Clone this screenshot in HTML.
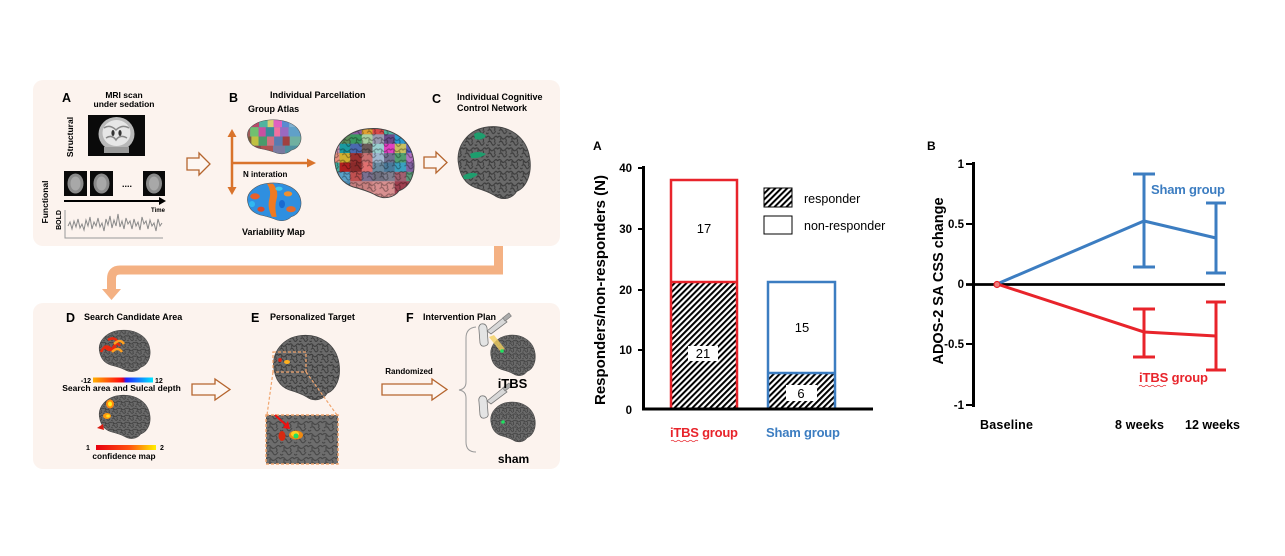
<!DOCTYPE html>
<html><head><meta charset="utf-8"><style>
html,body{margin:0;padding:0;background:#fff;}
svg{display:block;}
text{font-family:"Liberation Sans",Arial,sans-serif;}
</style></head><body>
<svg width="1285" height="556" viewBox="0 0 1285 556" xmlns="http://www.w3.org/2000/svg">
<defs>
<pattern id="gy" width="14" height="12" patternUnits="userSpaceOnUse">
<rect width="14" height="12" fill="#6a6a6a"/>
<path d="M0,3 Q3,0 5,3 T10,3 T14,3 M2,8 Q5,5 7,9 T12,8 M4,3 L4,6 M10,4 Q12,6 10,8 M0,10 Q2,12 3,10" fill="none" stroke="#3a3a3a" stroke-width="1.2"/>
</pattern>
<pattern id="gy2" width="14" height="12" patternUnits="userSpaceOnUse">
<path d="M0,3 Q3,0 5,3 T10,3 T14,3 M2,8 Q5,5 7,9 T12,8 M4,3 L4,6 M10,4 Q12,6 10,8" fill="none" stroke="#000" stroke-opacity="0.35" stroke-width="1.2"/>
</pattern>
<pattern id="hatch" width="4.2" height="4.2" patternUnits="userSpaceOnUse" patternTransform="rotate(45)">
<rect width="4.2" height="4.2" fill="#fff"/>
<line x1="1" y1="0" x2="1" y2="4.2" stroke="#000" stroke-width="2"/>
</pattern>
<clipPath id="bc"><path d="M8,42 C4,24 20,6 45,4 C70,2 92,14 96,36 C99,52 92,66 80,70 C74,78 62,80 52,74 C44,70 36,68 28,66 C16,62 10,54 8,42 Z"/></clipPath>
<linearGradient id="cb1" x1="0" x2="1" y1="0" y2="0">
<stop offset="0" stop-color="#ffb000"/><stop offset="0.45" stop-color="#ff1010"/><stop offset="0.5" stop-color="#e00020"/><stop offset="0.55" stop-color="#2020ff"/><stop offset="1" stop-color="#00e8ff"/>
</linearGradient>
<linearGradient id="cb2" x1="0" x2="1" y1="0" y2="0">
<stop offset="0" stop-color="#e80010"/><stop offset="0.55" stop-color="#ff5010"/><stop offset="1" stop-color="#fff000"/>
</linearGradient>
</defs>

<rect width="1285" height="556" fill="#fff"/>

<!-- Boxes -->
<rect x="33" y="80" width="527" height="166" rx="10" fill="#fcf3ee"/>
<rect x="33" y="303" width="527" height="166" rx="10" fill="#fcf3ee"/>

<!-- Orange connector -->
<path d="M498.5,246 V270 H120 Q111.5,270 111.5,279 V290" fill="none" stroke="#f4b183" stroke-width="9"/>
<polygon points="102,289 121,289 111.5,300" fill="#f4b183"/>

<!-- Panel A -->
<text x="62" y="102" font-size="12.5" font-weight="bold">A</text>
<text x="124" y="98" font-size="8.5" font-weight="bold" text-anchor="middle">MRI scan</text>
<text x="124" y="107" font-size="8.5" font-weight="bold" text-anchor="middle">under sedation</text>
<text transform="translate(73,137) rotate(-90)" font-size="8.5" font-weight="bold" text-anchor="middle">Structural</text>
<rect x="88" y="115" width="57" height="41" fill="#0a0a0a"/>
<ellipse cx="116.5" cy="134" rx="18" ry="17" fill="#b8b8b8"/>
<ellipse cx="116.5" cy="133" rx="14" ry="13" fill="#e6e6e6"/>
<path d="M104,128 Q110,124 116,130 Q122,124 129,128 M106,138 Q112,134 116,140 Q120,134 127,138" stroke="#888" stroke-width="1.5" fill="none"/>
<ellipse cx="113" cy="133" rx="1.6" ry="3" fill="#333"/><ellipse cx="120" cy="133" rx="1.6" ry="3" fill="#333"/>
<rect x="104" y="147" width="25" height="6" fill="#999"/>

<text transform="translate(48,202) rotate(-90)" font-size="8.5" font-weight="bold" text-anchor="middle">Functional</text>
<rect x="64" y="171" width="23" height="25" fill="#0a0a0a"/>
<rect x="90" y="171" width="23" height="25" fill="#0a0a0a"/>
<rect x="143" y="171" width="22" height="25" fill="#0a0a0a"/>
<ellipse cx="75.5" cy="183.5" rx="8" ry="10" fill="#8a8a8a"/><ellipse cx="75.5" cy="183.5" rx="5" ry="7" fill="#a8a8a8"/>
<ellipse cx="101.5" cy="183.5" rx="8" ry="10" fill="#8a8a8a"/><ellipse cx="101.5" cy="183.5" rx="5" ry="7" fill="#a8a8a8"/>
<ellipse cx="154" cy="183.5" rx="8" ry="10" fill="#8a8a8a"/><ellipse cx="154" cy="183.5" rx="5" ry="7" fill="#a8a8a8"/>
<text x="127" y="187" font-size="9" font-weight="bold" text-anchor="middle">....</text>
<line x1="64" y1="201" x2="161" y2="201" stroke="#000" stroke-width="2"/>
<polygon points="159,197 166,201 159,205" fill="#000"/>
<text x="158" y="212" font-size="6" font-weight="bold" text-anchor="middle">Time</text>
<text transform="translate(61,220) rotate(-90)" font-size="7" font-weight="bold" text-anchor="middle">BOLD</text>
<path d="M65,210 V238 H163" fill="none" stroke="#999" stroke-width="1"/>
<polyline points="68,226 70,222 72,229 74,221 76,227 78,219 80,228 82,224 84,230 86,220 88,226 90,217 92,229 94,222 96,226 98,218 100,227 102,223 104,231 106,219 108,225 110,216 112,228 114,220 116,226 118,214 120,227 122,221 124,229 126,218 128,224 130,221 132,229 134,219 136,226 138,222 140,230 142,217 144,224 146,221 148,229 150,220 152,226 154,223 156,231 158,219 160,226 162,223" fill="none" stroke="#8a8a8a" stroke-width="1"/>

<!-- Hollow arrow 1 -->
<polygon points="187,158 199,158 199,153 210,164 199,175 199,170 187,170" fill="#fdf6f2" stroke="#b5652e" stroke-width="1.3"/>

<!-- Panel B -->
<text x="229" y="102" font-size="12.5" font-weight="bold">B</text>
<text x="270" y="98" font-size="9" font-weight="bold">Individual Parcellation</text>
<text x="248" y="112" font-size="9" font-weight="bold">Group Atlas</text>
<!-- orange cross arrows -->
<line x1="232" y1="135" x2="232" y2="189" stroke="#d9732b" stroke-width="2.5"/>
<polygon points="227.5,137 232,129 236.5,137" fill="#d9732b"/>
<polygon points="227.5,187 232,195 236.5,187" fill="#d9732b"/>
<line x1="232" y1="163" x2="309" y2="163" stroke="#d9732b" stroke-width="2.5"/>
<polygon points="307,158.5 316,163 307,167.5" fill="#d9732b"/>
<text x="243" y="177" font-size="8" font-weight="bold">N interation</text>
<text x="242" y="235" font-size="9" font-weight="bold">Variability Map</text>

<!-- Group atlas brain -->
<g transform="translate(243,118) scale(0.6,0.4625)">
<g clip-path="url(#bc)">
<rect width="100" height="80" fill="#4aa0b8"/>
<rect x="0" y="0" width="15" height="20" fill="#6a5a9a"/><rect x="15" y="0" width="12" height="20" fill="#b84a6a"/><rect x="27" y="0" width="14" height="20" fill="#50b4a0"/><rect x="41" y="0" width="10" height="20" fill="#d8d070"/><rect x="51" y="0" width="14" height="20" fill="#e060c0"/><rect x="65" y="0" width="12" height="20" fill="#5a8ad0"/><rect x="77" y="0" width="23" height="20" fill="#80b0d0"/>
<rect x="0" y="20" width="12" height="20" fill="#a05a5a"/><rect x="12" y="20" width="14" height="20" fill="#70c070"/><rect x="26" y="20" width="12" height="20" fill="#c850a0"/><rect x="38" y="20" width="14" height="20" fill="#3a8a9a"/><rect x="52" y="20" width="10" height="20" fill="#f070a0"/><rect x="62" y="20" width="14" height="20" fill="#9a6ac0"/><rect x="76" y="20" width="24" height="20" fill="#60a0c8"/>
<rect x="0" y="40" width="14" height="20" fill="#7a5a3a"/><rect x="14" y="40" width="12" height="20" fill="#c0c040"/><rect x="26" y="40" width="14" height="20" fill="#4a9a6a"/><rect x="40" y="40" width="12" height="20" fill="#d07080"/><rect x="52" y="40" width="14" height="20" fill="#5a7ab0"/><rect x="66" y="40" width="12" height="20" fill="#a04040"/><rect x="78" y="40" width="22" height="20" fill="#70b0a0"/>
<rect x="0" y="60" width="30" height="20" fill="#8a4a4a"/><rect x="30" y="60" width="20" height="20" fill="#b05050"/><rect x="50" y="60" width="20" height="20" fill="#7a7aa0"/><rect x="70" y="60" width="30" height="20" fill="#5090a0"/>
</g>
<path d="M8,42 C4,24 20,6 45,4 C70,2 92,14 96,36 C99,52 92,66 80,70 C74,78 62,80 52,74 C44,70 36,68 28,66 C16,62 10,54 8,42 Z" fill="none" stroke="#555" stroke-width="1"/>
</g>

<!-- Variability brain -->
<g transform="translate(243,181) scale(0.6,0.5125)">
<g clip-path="url(#bc)">
<rect width="100" height="80" fill="#2f8fe0"/>
<path d="M40,5 Q48,20 44,35 Q40,50 48,70 L56,70 Q52,50 56,35 Q60,20 50,5 Z" fill="#f07a20"/>
<ellipse cx="20" cy="30" rx="8" ry="6" fill="#e8602a"/><ellipse cx="75" cy="25" rx="7" ry="5" fill="#f09030"/>
<ellipse cx="30" cy="55" rx="6" ry="5" fill="#d84a2a"/><ellipse cx="80" cy="55" rx="8" ry="6" fill="#e06a30"/>
<ellipse cx="60" cy="15" rx="6" ry="4" fill="#40c8e8"/><ellipse cx="15" cy="45" rx="5" ry="6" fill="#30b8f0"/>
<ellipse cx="65" cy="45" rx="5" ry="8" fill="#1a6ad0"/>
</g>
<path d="M8,42 C4,24 20,6 45,4 C70,2 92,14 96,36 C99,52 92,66 80,70 C74,78 62,80 52,74 C44,70 36,68 28,66 C16,62 10,54 8,42 Z" fill="none" stroke="#555" stroke-width="1"/>
</g>

<!-- Parcellation brain -->
<g transform="translate(328,125) scale(0.89,0.9375)">
<g clip-path="url(#bc)">
<rect width="100" height="80" fill="#7a7a9a"/>
<rect x="0" y="0" width="13" height="10" fill="#c8373c"/><rect x="13" y="0" width="12" height="10" fill="#3fa0c8"/><rect x="25" y="0" width="13" height="10" fill="#8c5aa0"/><rect x="38" y="0" width="12" height="10" fill="#e0a030"/><rect x="50" y="0" width="13" height="10" fill="#d84a4a"/><rect x="63" y="0" width="12" height="10" fill="#50b4a0"/><rect x="75" y="0" width="13" height="10" fill="#9ac0d8"/><rect x="88" y="0" width="12" height="10" fill="#2a7ab0"/>
<rect x="0" y="10" width="13" height="10" fill="#d878a8"/><rect x="13" y="10" width="12" height="10" fill="#5a8c5a"/><rect x="25" y="10" width="13" height="10" fill="#3a9a60"/><rect x="38" y="10" width="12" height="10" fill="#a8d0a0"/><rect x="50" y="10" width="13" height="10" fill="#9a9ab0"/><rect x="63" y="10" width="12" height="10" fill="#6a4a8a"/><rect x="75" y="10" width="13" height="10" fill="#2a9ad0"/><rect x="88" y="10" width="12" height="10" fill="#e05c8c"/>
<rect x="0" y="20" width="13" height="10" fill="#c890b0"/><rect x="13" y="20" width="12" height="10" fill="#1a9aa0"/><rect x="25" y="20" width="13" height="10" fill="#4a6ab0"/><rect x="38" y="20" width="12" height="10" fill="#6a5a5a"/><rect x="50" y="20" width="13" height="10" fill="#9ad0d0"/><rect x="63" y="20" width="12" height="10" fill="#e040c0"/><rect x="75" y="20" width="13" height="10" fill="#c8c060"/><rect x="88" y="20" width="12" height="10" fill="#5a60c0"/>
<rect x="0" y="30" width="13" height="10" fill="#e89080"/><rect x="13" y="30" width="12" height="10" fill="#d0b030"/><rect x="25" y="30" width="13" height="10" fill="#9a3030"/><rect x="38" y="30" width="12" height="10" fill="#c87070"/><rect x="50" y="30" width="13" height="10" fill="#a0b8d0"/><rect x="63" y="30" width="12" height="10" fill="#707090"/><rect x="75" y="30" width="13" height="10" fill="#50a070"/><rect x="88" y="30" width="12" height="10" fill="#b070c0"/>
<rect x="0" y="40" width="13" height="10" fill="#40b0a0"/><rect x="13" y="40" width="12" height="10" fill="#b02020"/><rect x="25" y="40" width="13" height="10" fill="#8a2a2a"/><rect x="38" y="40" width="12" height="10" fill="#e07070"/><rect x="50" y="40" width="13" height="10" fill="#6a8aa0"/><rect x="63" y="40" width="12" height="10" fill="#4a7a9a"/><rect x="75" y="40" width="13" height="10" fill="#3aa0c0"/><rect x="88" y="40" width="12" height="10" fill="#8060a0"/>
<rect x="0" y="50" width="13" height="10" fill="#5a8ab0"/><rect x="13" y="50" width="12" height="10" fill="#5aa0c8"/><rect x="25" y="50" width="13" height="10" fill="#c05050"/><rect x="38" y="50" width="12" height="10" fill="#7a7090"/><rect x="50" y="50" width="13" height="10" fill="#707080"/><rect x="63" y="50" width="12" height="10" fill="#808090"/><rect x="75" y="50" width="13" height="10" fill="#a06070"/><rect x="88" y="50" width="12" height="10" fill="#5a9a7a"/>
<rect x="0" y="60" width="25" height="20" fill="#4a8ab0"/><rect x="25" y="60" width="25" height="20" fill="#c88080"/><rect x="50" y="60" width="25" height="20" fill="#d89090"/><rect x="75" y="60" width="25" height="20" fill="#a04050"/>
<rect width="100" height="80" fill="url(#gy2)"/>
</g>
<path d="M8,42 C4,24 20,6 45,4 C70,2 92,14 96,36 C99,52 92,66 80,70 C74,78 62,80 52,74 C44,70 36,68 28,66 C16,62 10,54 8,42 Z" fill="none" stroke="#444" stroke-width="1"/>
</g>

<!-- Hollow arrow 2 -->
<polygon points="424,157 436,157 436,152 447,162.5 436,173 436,168 424,168" fill="#fdf6f2" stroke="#b5652e" stroke-width="1.3"/>

<!-- Panel C -->
<text x="432" y="103" font-size="12.5" font-weight="bold">C</text>
<text x="457" y="100" font-size="9" font-weight="bold">Individual Cognitive</text>
<text x="457" y="111" font-size="9" font-weight="bold">Control Network</text>
<g transform="translate(452,123) scale(0.81,0.975)">
<path d="M8,42 C4,24 20,6 45,4 C70,2 92,14 96,36 C99,52 92,66 80,70 C74,78 62,80 52,74 C44,70 36,68 28,66 C16,62 10,54 8,42 Z" fill="url(#gy)" stroke="#444" stroke-width="1"/>
</g>
<path d="M474,134 Q480,130 486,136 Q482,141 475,139 Z" fill="#1e9e6e"/>
<path d="M470,154 Q478,150 486,154 Q480,159 471,158 Z" fill="#1e9e6e"/>
<path d="M463,176 Q470,171 478,174 Q472,180 464,179 Z" fill="#1e9e6e"/>

<!-- Panel D -->
<text x="66" y="322" font-size="12.5" font-weight="bold">D</text>
<text x="84" y="320" font-size="9" font-weight="bold">Search Candidate Area</text>
<g transform="translate(95,328) scale(0.57,0.5625)">
<path d="M8,42 C4,24 20,6 45,4 C70,2 92,14 96,36 C99,52 92,66 80,70 C74,78 62,80 52,74 C44,70 36,68 28,66 C16,62 10,54 8,42 Z" fill="url(#gy)" stroke="#444" stroke-width="1"/>
</g>
<path d="M101,352 Q106,342 112,350 Q116,340 120,346 M104,346 Q110,354 116,346 M108,340 Q114,336 118,342" fill="none" stroke="#e82a10" stroke-width="2.5"/>
<path d="M112,352 Q118,346 122,352 M114,344 Q120,338 124,344" fill="none" stroke="#ffa020" stroke-width="2.5"/>
<text x="91" y="383" font-size="7" font-weight="bold" text-anchor="end">-12</text>
<rect x="93" y="377.5" width="60" height="5" fill="url(#cb1)"/>
<text x="155" y="383" font-size="7" font-weight="bold">12</text>
<text x="121.5" y="391" font-size="8.5" font-weight="bold" text-anchor="middle">Search area and Sulcal depth</text>
<g transform="translate(95,393) scale(0.57,0.5875)">
<path d="M8,42 C4,24 20,6 45,4 C70,2 92,14 96,36 C99,52 92,66 80,70 C74,78 62,80 52,74 C44,70 36,68 28,66 C16,62 10,54 8,42 Z" fill="url(#gy)" stroke="#444" stroke-width="1"/>
</g>
<ellipse cx="110" cy="404" rx="4" ry="4.5" fill="#ff8a10"/><ellipse cx="110" cy="404" rx="2" ry="2.5" fill="#fff020"/>
<ellipse cx="107" cy="416" rx="4" ry="3" fill="#ff9a10"/><ellipse cx="108" cy="416" rx="1.8" ry="1.5" fill="#ffe020"/>
<path d="M97,428 L103,424 L104,430 Z" fill="#d81a10"/>
<text x="88" y="450" font-size="7" font-weight="bold" text-anchor="middle">1</text>
<rect x="96" y="445" width="60" height="5" fill="url(#cb2)"/>
<text x="162" y="450" font-size="7" font-weight="bold" text-anchor="middle">2</text>
<text x="124" y="459" font-size="8.3" font-weight="bold" text-anchor="middle">confidence map</text>

<!-- Hollow arrow 3 -->
<polygon points="192,384 215,384 215,379 230,389.5 215,400 215,395 192,395" fill="#fdf6f2" stroke="#b5652e" stroke-width="1.3"/>

<!-- Panel E -->
<text x="251" y="322" font-size="12.5" font-weight="bold">E</text>
<text x="270" y="320" font-size="9" font-weight="bold">Personalized Target</text>
<g transform="translate(268,332) scale(0.74,0.875)">
<path d="M8,42 C4,24 20,6 45,4 C70,2 92,14 96,36 C99,52 92,66 80,70 C74,78 62,80 52,74 C44,70 36,68 28,66 C16,62 10,54 8,42 Z" fill="url(#gy)" stroke="#444" stroke-width="1"/>
</g>
<ellipse cx="280" cy="360" rx="1.8" ry="2" fill="#e02010"/>
<ellipse cx="287" cy="362" rx="3" ry="2" fill="#ffb020"/>
<rect x="273" y="352" width="33" height="20" fill="none" stroke="#f0a56e" stroke-width="1.3" stroke-dasharray="3,2"/>
<line x1="273" y1="372" x2="267" y2="415" stroke="#f0a56e" stroke-width="1.2" stroke-dasharray="3,2"/>
<line x1="306" y1="372" x2="337" y2="415" stroke="#f0a56e" stroke-width="1.2" stroke-dasharray="3,2"/>
<rect x="266" y="415" width="72" height="49" fill="url(#gy)" transform="" />
<rect x="266" y="415" width="72" height="49" fill="#777" fill-opacity="0.25"/>
<rect x="266" y="415" width="72" height="49" fill="none" stroke="#f0a56e" stroke-width="1.5" stroke-dasharray="3,2"/>
<ellipse cx="282" cy="436" rx="3.5" ry="5" fill="#d82a10"/>
<ellipse cx="296" cy="435" rx="7" ry="4.5" fill="#f08a10"/>
<ellipse cx="295" cy="434" rx="4" ry="3" fill="#ffd020"/>
<circle cx="296" cy="436" r="2.5" fill="#20e060"/>
<line x1="275" y1="415" x2="286" y2="425" stroke="#f01010" stroke-width="2"/>
<polygon points="283,428 290,429 288,421" fill="#f01010"/>

<!-- Hollow arrow 4 -->
<text x="409" y="374" font-size="8" font-weight="bold" text-anchor="middle">Randomized</text>
<polygon points="382,384 432,384 432,379 447,389.5 432,400 432,395 382,395" fill="#fdf6f2" stroke="#b5652e" stroke-width="1.3"/>

<!-- Panel F -->
<text x="406" y="322" font-size="12.5" font-weight="bold">F</text>
<text x="423" y="320" font-size="9" font-weight="bold">Intervention Plan</text>
<path d="M476,327 Q466,328 466,338 L466,382 Q466,389 459,390 Q466,391 466,398 L466,442 Q466,452 476,452" fill="none" stroke="#999" stroke-width="1"/>
<g transform="translate(487,333) scale(0.5,0.55)">
<path d="M8,42 C4,24 20,6 45,4 C70,2 92,14 96,36 C99,52 92,66 80,70 C74,78 62,80 52,74 C44,70 36,68 28,66 C16,62 10,54 8,42 Z" fill="url(#gy)" stroke="#444" stroke-width="1"/>
</g>
<g transform="translate(487,400) scale(0.5,0.54)">
<path d="M8,42 C4,24 20,6 45,4 C70,2 92,14 96,36 C99,52 92,66 80,70 C74,78 62,80 52,74 C44,70 36,68 28,66 C16,62 10,54 8,42 Z" fill="url(#gy)" stroke="#444" stroke-width="1"/>
</g>
<!-- coils -->
<polygon points="489,337 494,335 505,349 500,351" fill="#f2d060" fill-opacity="0.8"/>
<path d="M487,331 L503,318 L507,322 L491,334 Z" fill="#d8d8d8" stroke="#777" stroke-width="0.8"/>
<rect x="503" y="315" width="8" height="4" fill="#aaa" stroke="#777" stroke-width="0.6" transform="rotate(-38 507 317)"/>
<path d="M481,324 Q478,326 479,330 L480,343 Q481,347 485,346 Q489,345 488,341 L487,328 Q486,323 481,324 Z" fill="#e4e4e4" stroke="#777" stroke-width="0.8"/>
<circle cx="502" cy="351" r="1.8" fill="#20e060"/>
<path d="M487,401 L503,388 L507,392 L491,404 Z" fill="#d8d8d8" stroke="#777" stroke-width="0.8"/>
<rect x="503" y="385" width="8" height="4" fill="#aaa" stroke="#777" stroke-width="0.6" transform="rotate(-38 507 387)"/>
<path d="M481,396 Q478,398 479,402 L480,415 Q481,419 485,418 Q489,417 488,413 L487,400 Q486,395 481,396 Z" fill="#e4e4e4" stroke="#777" stroke-width="0.8"/>
<circle cx="503" cy="422" r="1.8" fill="#20e060"/>
<text x="512.5" y="388" font-size="13" font-weight="bold" text-anchor="middle">iTBS</text>
<text x="513.5" y="463" font-size="12" font-weight="bold" text-anchor="middle">sham</text>

<!-- ===== Bar chart A ===== -->
<text x="593" y="150" font-size="12" font-weight="bold">A</text>
<text transform="translate(605,290) rotate(-90)" font-size="15" font-weight="bold" text-anchor="middle">Responders/non-responders (N)</text>
<g font-size="11.5" font-weight="bold" text-anchor="end">
<text x="632" y="172">40</text>
<text x="632" y="233">30</text>
<text x="632" y="294">20</text>
<text x="632" y="354">10</text>
<text x="632" y="414">0</text>
</g>
<g stroke="#000" stroke-width="2">
<line x1="638" y1="168" x2="644" y2="168"/>
<line x1="638" y1="229" x2="644" y2="229"/>
<line x1="638" y1="290" x2="644" y2="290"/>
<line x1="638" y1="350" x2="644" y2="350"/>
</g>
<!-- bars -->
<rect x="671" y="282" width="66" height="127" fill="url(#hatch)"/>
<rect x="671" y="180" width="66" height="102" fill="#fff"/>
<rect x="671" y="180" width="66" height="229" fill="none" stroke="#e8242b" stroke-width="2.5"/>
<line x1="671" y1="282" x2="737" y2="282" stroke="#e8242b" stroke-width="2.5"/>
<rect x="768" y="373" width="67" height="36" fill="url(#hatch)"/>
<rect x="768" y="282" width="67" height="91" fill="#fff"/>
<rect x="768" y="282" width="67" height="127" fill="none" stroke="#3c7dc1" stroke-width="2.5"/>
<line x1="768" y1="373" x2="835" y2="373" stroke="#3c7dc1" stroke-width="2.5"/>
<rect x="688" y="346" width="30" height="15" fill="#fff"/>
<rect x="786" y="385" width="31" height="16" fill="#fff"/>
<g font-size="13" text-anchor="middle">
<text x="704" y="233">17</text>
<text x="703" y="358">21</text>
<text x="802" y="332">15</text>
<text x="801" y="398">6</text>
</g>
<!-- axes -->
<line x1="643.5" y1="166" x2="643.5" y2="410" stroke="#000" stroke-width="3"/>
<line x1="642" y1="409" x2="873" y2="409" stroke="#000" stroke-width="3"/>
<!-- legend -->
<rect x="764" y="188" width="28" height="19" fill="url(#hatch)" stroke="#000" stroke-width="1"/>
<rect x="764" y="216" width="28" height="18" fill="#fff" stroke="#000" stroke-width="1"/>
<text x="804" y="203" font-size="12.5">responder</text>
<text x="804" y="230" font-size="12.5">non-responder</text>
<!-- x labels -->
<text x="704" y="437" font-size="13" font-weight="bold" fill="#e8242b" text-anchor="middle" textLength="68">iTBS group</text>
<path d="M671,441 q1.5,-1.5 3,0 t3,0 t3,0 t3,0 t3,0 t3,0 t3,0 t3,0 t3,0" fill="none" stroke="#e8242b" stroke-width="0.8"/>
<text x="803" y="437" font-size="13" font-weight="bold" fill="#3c7dc1" text-anchor="middle" textLength="74">Sham group</text>

<!-- ===== Line chart B ===== -->
<text x="927" y="150" font-size="12" font-weight="bold">B</text>
<text transform="translate(943,281) rotate(-90)" font-size="14.5" font-weight="bold" text-anchor="middle">ADOS-2 SA CSS change</text>
<g font-size="11.5" font-weight="bold" text-anchor="end">
<text x="964" y="168">1</text>
<text x="964" y="228">0.5</text>
<text x="964" y="288">0</text>
<text x="964" y="348">-0.5</text>
<text x="964" y="409">-1</text>
</g>
<g stroke="#000" stroke-width="2">
<line x1="966" y1="164" x2="974" y2="164"/>
<line x1="966" y1="224" x2="974" y2="224"/>
<line x1="966" y1="344" x2="974" y2="344"/>
<line x1="966" y1="405" x2="974" y2="405"/>
</g>
<line x1="973.5" y1="162" x2="973.5" y2="407" stroke="#000" stroke-width="3"/>
<line x1="966" y1="284.5" x2="1225" y2="284.5" stroke="#000" stroke-width="2.8"/>
<!-- sham -->
<g stroke="#3c7dc1" stroke-width="3" fill="none">
<polyline points="997,284 1144,221 1216,238"/>
<line x1="1144" y1="174" x2="1144" y2="267"/>
<line x1="1133" y1="174" x2="1155" y2="174"/>
<line x1="1133" y1="267" x2="1155" y2="267"/>
<line x1="1216" y1="203" x2="1216" y2="273"/>
<line x1="1206" y1="203" x2="1226" y2="203"/>
<line x1="1206" y1="273" x2="1226" y2="273"/>
</g>
<!-- itbs -->
<g stroke="#e8242b" stroke-width="3" fill="none">
<polyline points="997,284 1144,332 1216,336"/>
<line x1="1144" y1="309" x2="1144" y2="357"/>
<line x1="1133" y1="309" x2="1155" y2="309"/>
<line x1="1133" y1="357" x2="1155" y2="357"/>
<line x1="1216" y1="302" x2="1216" y2="370"/>
<line x1="1206" y1="302" x2="1226" y2="302"/>
<line x1="1206" y1="370" x2="1226" y2="370"/>
</g>
<circle cx="997" cy="284.5" r="3" fill="#f08080" stroke="#e8242b" stroke-width="1.2"/>
<text x="1188" y="194" font-size="13" font-weight="bold" fill="#3c7dc1" text-anchor="middle" textLength="74">Sham group</text>
<text x="1173.5" y="382" font-size="13" font-weight="bold" fill="#e8242b" text-anchor="middle" textLength="69">iTBS group</text>
<path d="M1139,386 q1.5,-1.5 3,0 t3,0 t3,0 t3,0 t3,0 t3,0 t3,0 t3,0 t3,0" fill="none" stroke="#e8242b" stroke-width="0.8"/>
<g font-size="12.5" font-weight="bold" text-anchor="middle">
<text x="1006.5" y="429" textLength="53">Baseline</text>
<text x="1139.5" y="429" textLength="49">8 weeks</text>
<text x="1212.5" y="429" textLength="55">12 weeks</text>
</g>
</svg>
</body></html>
